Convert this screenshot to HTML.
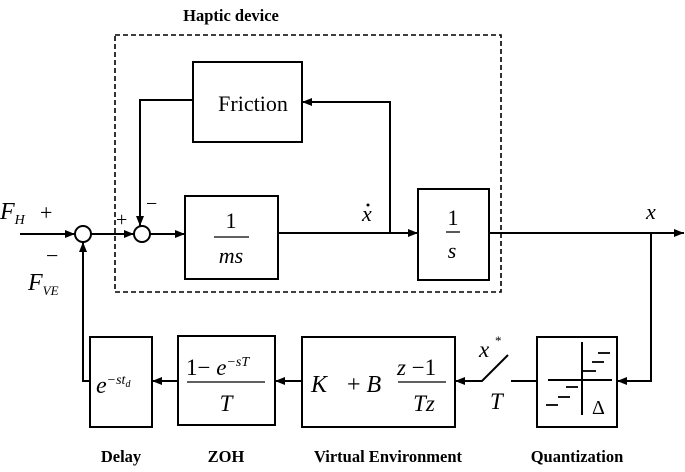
<!DOCTYPE html>
<html><head><style>body{margin:0;background:#fff}</style></head><body>
<svg width="685" height="467" viewBox="0 0 685 467" xmlns="http://www.w3.org/2000/svg" font-family="Liberation Serif, serif">
<defs><marker id="a" markerWidth="10" markerHeight="8" refX="10" refY="4" orient="auto" markerUnits="userSpaceOnUse"><path d="M0,0L10,4L0,8z" fill="#000"/></marker></defs>
<g fill="none" stroke="#000" stroke-width="2">
<rect x="115" y="35" width="386" height="257" stroke-dasharray="5,3" stroke-width="1.6"/>
<rect x="193" y="62" width="109" height="80"/>
<rect x="185" y="196" width="93" height="83"/>
<rect x="418" y="189" width="71" height="91"/>
<rect x="537" y="337" width="80" height="90"/>
<rect x="90" y="337" width="62" height="90"/>
<rect x="178" y="336" width="97" height="89"/>
<rect x="302" y="337" width="153" height="90"/>
<circle cx="83" cy="234" r="8"/>
<circle cx="142" cy="234" r="8"/>
<line x1="20" y1="234" x2="75" y2="234" marker-end="url(#a)"/>
<line x1="91" y1="234" x2="134" y2="234" marker-end="url(#a)"/>
<line x1="150" y1="234" x2="185" y2="234" marker-end="url(#a)"/>
<line x1="278" y1="233" x2="418" y2="233" marker-end="url(#a)"/>
<polyline points="390,233 390,102 302,102" marker-end="url(#a)"/>
<polyline points="193,100 140,100 140,226" marker-end="url(#a)"/>
<line x1="489" y1="233" x2="684" y2="233" marker-end="url(#a)"/>
<polyline points="651,233 651,381 617,381" marker-end="url(#a)"/>
<line x1="537" y1="381" x2="511" y2="381"/>
<polyline points="508,355 482,381 455,381" marker-end="url(#a)"/>
<line x1="302" y1="381" x2="275" y2="381" marker-end="url(#a)"/>
<line x1="178" y1="381" x2="152" y2="381" marker-end="url(#a)"/>
<polyline points="90,381 83,381 83,242" marker-end="url(#a)"/>
<line x1="214" y1="237" x2="249" y2="237" stroke-width="1.3"/>
<line x1="446" y1="232" x2="460" y2="232" stroke-width="1.3"/>
<line x1="187" y1="382" x2="265" y2="382" stroke-width="1.3"/>
<line x1="398" y1="382" x2="446" y2="382" stroke-width="1.3"/>
<line x1="582" y1="342" x2="582" y2="415" stroke-width="2"/>
<line x1="548" y1="380" x2="612" y2="380" stroke-width="2"/>
<g stroke-width="1.8">
<line x1="598" y1="353" x2="610" y2="353"/><line x1="592" y1="362" x2="604" y2="362"/><line x1="583" y1="371" x2="596" y2="371"/>
<line x1="566" y1="387" x2="578" y2="387"/><line x1="558" y1="397" x2="570" y2="397"/><line x1="546" y1="405" x2="558" y2="405"/>
</g>
</g>
<g fill="#000">
<text x="231" y="21" font-size="16.5" font-weight="bold" text-anchor="middle">Haptic device</text>
<text x="253" y="111" font-size="22" text-anchor="middle">Friction</text>
<text x="231" y="228" font-size="22" text-anchor="middle">1</text>
<text x="231" y="263" font-size="22" font-style="italic" text-anchor="middle">ms</text>
<text x="453" y="225" font-size="22" text-anchor="middle">1</text>
<text x="452" y="258" font-size="22" font-style="italic" text-anchor="middle">s</text>
<text x="362" y="221" font-size="22" font-style="italic">x</text><circle cx="368" cy="205" r="1.5"/>
<text x="646" y="219" font-size="22" font-style="italic">x</text>
<text x="0" y="219" font-size="24" font-style="italic">F<tspan font-size="14" dy="5">H</tspan></text>
<text x="40" y="220" font-size="22">+</text>
<text x="46" y="263" font-size="22">−</text>
<text x="28" y="290" font-size="24" font-style="italic">F<tspan font-size="13" dy="5">VE</tspan></text>
<text x="116" y="226" font-size="20">+</text>
<text x="146" y="210" font-size="20">−</text>
<text x="96" y="393" font-size="24" font-style="italic">e<tspan font-size="14" dy="-9">−st</tspan><tspan font-size="10" dy="3">d</tspan></text>
<text x="186" y="375" font-size="23">1− <tspan font-style="italic">e</tspan><tspan font-size="14" dy="-9" font-style="italic">−sT</tspan></text>
<text x="226" y="411" font-size="23" font-style="italic" text-anchor="middle">T</text>
<text x="311" y="392" font-size="24" font-style="italic">K</text>
<text x="347" y="392" font-size="24">+ <tspan font-style="italic">B</tspan></text>
<text x="397" y="375" font-size="23"><tspan font-style="italic">z</tspan> −1</text>
<text x="424" y="411" font-size="23" font-style="italic" text-anchor="middle">Tz</text>
<text x="479" y="357" font-size="23" font-style="italic">x</text><text x="495" y="345" font-size="13">*</text>
<text x="490" y="409" font-size="23" font-style="italic">T</text>
<text x="592" y="414" font-size="20">Δ</text>
<text x="121" y="462" font-size="16.5" font-weight="bold" text-anchor="middle">Delay</text>
<text x="226" y="462" font-size="16.5" font-weight="bold" text-anchor="middle">ZOH</text>
<text x="388" y="462" font-size="16.5" font-weight="bold" text-anchor="middle">Virtual Environment</text>
<text x="577" y="462" font-size="16.5" font-weight="bold" text-anchor="middle">Quantization</text>
</g>
</svg>
</body></html>
